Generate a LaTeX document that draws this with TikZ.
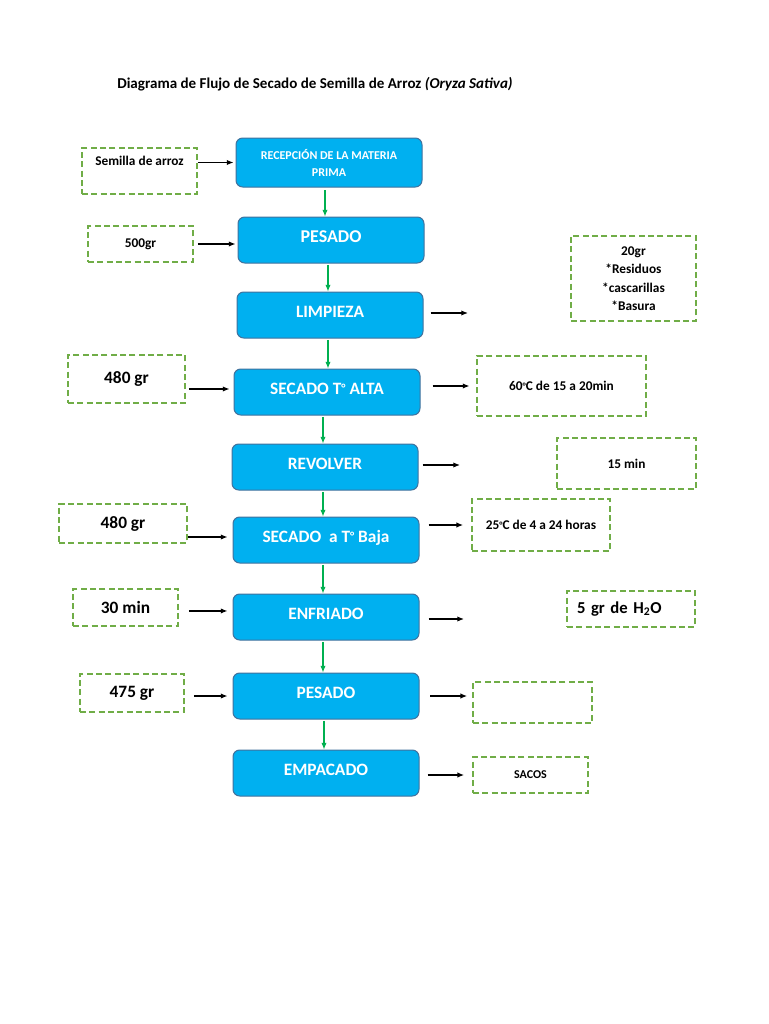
\documentclass[tikz,border=0pt]{standalone}
\usepackage{fontspec}
\setmainfont{Carlito}
\usetikzlibrary{arrows.meta}
\definecolor{procblue}{HTML}{00B0F0}
\definecolor{procedge}{HTML}{41719C}
\definecolor{flowgreen}{HTML}{00B050}
\definecolor{dashgreen}{HTML}{70AD47}
\newcommand\degsign{\raisebox{0.12em}{\scalebox{0.7}{°}}}
\begin{document}
\begin{tikzpicture}[x=0.75pt,y=-0.75pt,
  proc/.style={draw=procedge, line width=0.75pt, fill=procblue, rounded corners=5pt,
    text=white, font=\bfseries\fontsize{13}{15}\selectfont,
    minimum width=139.5pt, minimum height=34.5pt, inner sep=0pt, align=center},
  lift/.style={text height=9pt, text depth=5pt},
  dbox/.style={draw=dashgreen, line width=1.3pt, dash pattern=on 4.5pt off 2.5pt,
    font=\bfseries\fontsize{10}{12}\selectfont, inner sep=0pt, align=center},
  bigtxt/.style={font=\bfseries\fontsize{13}{15}\selectfont},
  inarrow/.style={-{Latex[length=5pt,width=4pt]}, line width=0.9pt, black},
  flow/.style={-{Latex[length=5pt,width=4pt]}, line width=0.8pt, flowgreen}]
\useasboundingbox (0,0) rectangle (768,1024);

% title
\node[anchor=west, inner sep=0pt, font=\bfseries\fontsize{11.3}{13}\selectfont] (title) at (117,84)
  {Diagrama de Flujo de Secado de Semilla de Arroz \textit{(Oryza Sativa)}};

% process boxes
\node[proc, font=\bfseries\fontsize{9}{12.75}\selectfont, minimum height=36.75pt] (rec) at (329,162.5) {RECEPCIÓN DE LA MATERIA\\PRIMA};
\node[proc, lift, font=\bfseries\fontsize{13.5}{15}\selectfont] (pes1) at (331,240) {PESADO};
\node[proc, lift] (lim) at (330,315) {LIMPIEZA};
\node[proc, lift] (sa) at (327,392) {SECADO T\degsign\ ALTA};
\node[proc, lift] (rev) at (325,467) {REVOLVER};
\node[proc, lift] (sb) at (326,540) {SECADO\ \ a T\degsign\ Baja};
\node[proc, lift] (enf) at (326,617) {ENFRIADO};
\node[proc, lift] (pes2) at (326,696) {PESADO};
\node[proc, lift] (emp) at (326,773) {EMPACADO};

% input boxes (left)
\node[dbox, minimum width=86.25pt, minimum height=34.5pt, text height=7pt, text depth=15.6pt] (sem) at (139.5,171) {Semilla de arroz};
\node[dbox, minimum width=78.75pt, minimum height=27pt] (w500) at (140.5,244) {500gr};
\node[dbox, bigtxt, minimum width=87.75pt, minimum height=36pt] (w480a) at (126.5,379) {480 gr};
\node[dbox, bigtxt, minimum width=96pt, minimum height=29.25pt] (w480b) at (123,523.5) {480 gr};
\node[dbox, bigtxt, minimum width=78.75pt, minimum height=27.75pt] (m30) at (125.5,607.5) {30 min};
\node[dbox, bigtxt, minimum width=78pt, minimum height=28.5pt] (w475) at (132,693) {475 gr};

% output boxes (right)
\node[dbox, minimum width=93.75pt, minimum height=63.75pt, font=\bfseries\fontsize{10}{13.9}\selectfont] (res) at (633.5,278.5) {20gr\\*Residuos\\*cascarillas\\*Basura};
\node[dbox, minimum width=126.75pt, minimum height=45pt] (t60) at (561.5,386) {60\degsign C de 15 a 20min};
\node[dbox, minimum width=104.25pt, minimum height=38.25pt] (m15) at (626.5,463.5) {15 min};
\node[dbox, minimum width=103.5pt, minimum height=39pt] (t25) at (541,525) {25\degsign C de 4 a 24 horas};
\node[dbox, font=\bfseries\fontsize{12.5}{15}\selectfont, minimum width=96pt, minimum height=27pt, text width=81pt, align=left] (h2o) at (631,609) {5 gr de H\textsubscript{2}O};
\node[dbox, minimum width=89.25pt, minimum height=30.75pt] (blank) at (532.5,702.5) {};
\node[dbox, font=\bfseries\fontsize{9}{11}\selectfont, minimum width=86.25pt, minimum height=27pt] (sacos) at (530.5,775) {SACOS};

% free arrow ends
\coordinate (limout) at (468,313);
\coordinate (revout) at (460,465);
\coordinate (enfout) at (464,619);

% main flow (green)
\draw[flow] ([xshift=-3pt,yshift=-2pt]rec.south) -- ([xshift=-3pt]rec.south |- pes1.north);
\draw[flow] ([xshift=-2.25pt,yshift=-1pt]pes1.south) -- ([xshift=-2.25pt]pes1.south |- lim.north);
\draw[flow] ([xshift=-1.5pt,yshift=-1pt]lim.south) -- ([xshift=-1.5pt]lim.south |- sa.north);
\draw[flow] ([xshift=-3pt,yshift=-1pt]sa.south) -- ([xshift=-3pt]sa.south |- rev.north);
\draw[flow] ([xshift=-1.5pt,yshift=-1pt]rev.south) -- ([xshift=-1.5pt]rev.south |- sb.north);
\draw[flow] ([xshift=-2.25pt,yshift=-1pt]sb.south) -- ([xshift=-2.25pt]sb.south |- enf.north);
\draw[flow] ([xshift=-2.25pt,yshift=-1pt]enf.south) -- ([xshift=-2.25pt]enf.south |- pes2.north);
\draw[flow] ([xshift=-1.5pt,yshift=-1pt]pes2.south) -- ([xshift=-1.5pt]pes2.south |- emp.north);

% input arrows
\draw[inarrow, shorten >=1.5pt] (sem.east |- rec.west) -- (rec.west);
\draw[inarrow, shorten >=1.5pt] ([xshift=3pt]w500.east) -- (w500.east -| pes1.west);
\draw[inarrow, shorten >=3pt] ([xshift=2.25pt,yshift=2.25pt]w480a.east |- sa.west) -- ([yshift=2.25pt]sa.west);
\draw[inarrow, shorten >=3.75pt] ([yshift=2.25pt]w480b.east |- sb.west) -- ([yshift=2.25pt]sb.west);
\draw[inarrow, shorten >=3.75pt] ([xshift=7.5pt,yshift=-2.6pt]m30.east) -- ([yshift=-2.6pt]m30.east -| enf.west);
\draw[inarrow, shorten >=3.75pt] ([xshift=6.75pt]w475.east |- pes2.west) -- (pes2.west);

% output arrows
\draw[inarrow] ([xshift=5.25pt,yshift=1.5pt]lim.east) -- (limout);
\draw[inarrow, shorten >=5pt] ([xshift=9pt]sa.east |- t60.west) -- (t60.west);
\draw[inarrow] ([xshift=3pt,yshift=1.5pt]rev.east) -- (revout);
\draw[inarrow, shorten >=6pt] ([xshift=6.75pt]sb.east |- t25.west) -- (t25.west);
\draw[inarrow] ([xshift=6.75pt,yshift=-1.5pt]enf.east) -- (enfout);
\draw[inarrow, shorten >=3.75pt] ([xshift=8pt]pes2.east) -- (pes2.east -| blank.west);
\draw[inarrow, shorten >=6pt] ([xshift=6pt]emp.east |- sacos.west) -- (sacos.west);
\end{tikzpicture}
\end{document}
